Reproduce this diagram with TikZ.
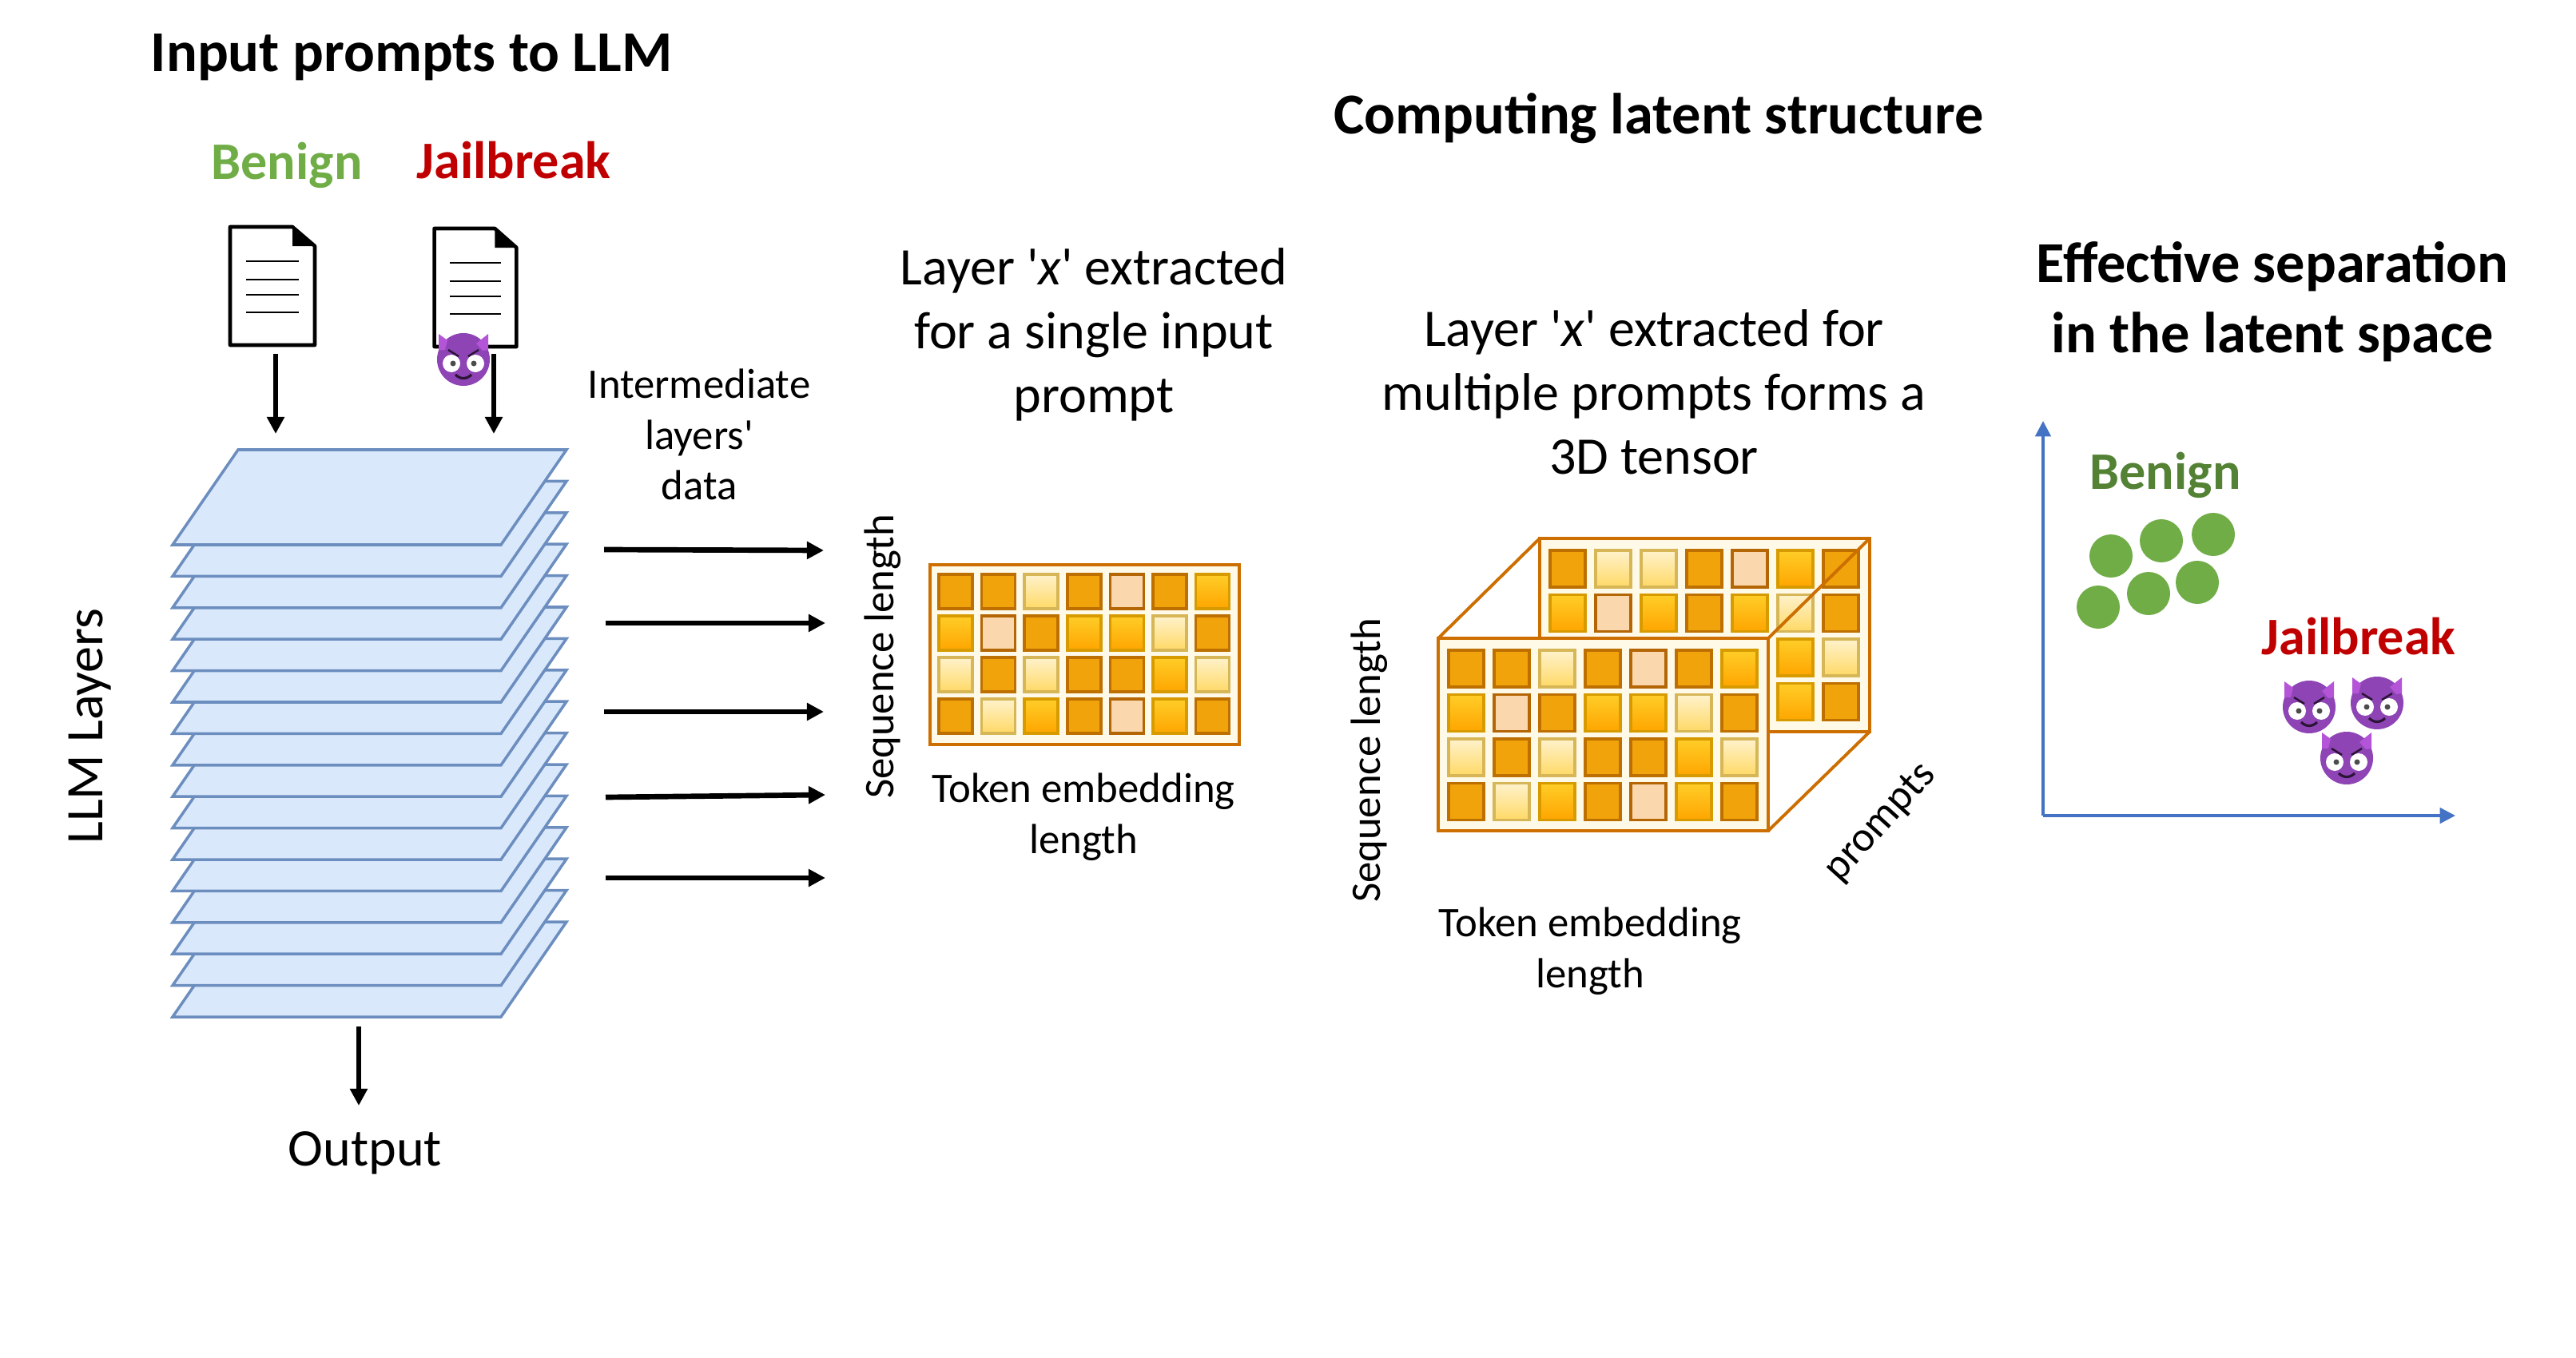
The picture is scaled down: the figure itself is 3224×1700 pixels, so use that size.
\documentclass[tikz,border=0pt]{standalone}
\usepackage{xcolor}
\usepackage{fontspec}
\setmainfont{Carlito}
\usetikzlibrary{arrows.meta}

\definecolor{layerfill}{HTML}{DAE8FC}
\definecolor{layerline}{HTML}{6C8EBF}
\definecolor{gridline}{HTML}{CC6E00}
\definecolor{gridfill}{HTML}{FFF9E8}
\definecolor{benigngreen}{HTML}{70AD47}
\definecolor{benigndark}{HTML}{548235}
\definecolor{jailred}{HTML}{C00000}
\definecolor{axisblue}{HTML}{4472C4}
\definecolor{devilface}{HTML}{8E44B5}
\definecolor{devilhorn}{HTML}{B455D8}

\tikzset{
  bigtext/.style={font=\fontsize{18.8}{22.8}\selectfont,align=center},
  smalltext/.style={font=\fontsize{15}{18.1}\selectfont,align=center},
  headtext/.style={font=\fontsize{20.6}{25}\selectfont\bfseries,align=center},
  tagtext/.style={font=\fontsize{18.8}{23}\selectfont\bfseries,align=center},
  flow/.style={line width=1.9pt,-{Triangle[length=6pt,width=6pt]}},
  axisline/.style={draw=axisblue,line width=1pt,-{Triangle[length=5.5pt,width=5.5pt]}},
  layerbox/.style={draw=layerline,fill=layerfill,line width=1pt,line join=miter},
  gridbox/.style={draw=gridline,fill=gridfill,line width=1.1pt},
  gridedge/.style={draw=gridline,line width=1.1pt},
  cellD/.style={draw={rgb,255:red,189;green,112;blue,0},fill={rgb,255:red,240;green,163;blue,10},line width=1pt},
  cellO/.style={draw={rgb,255:red,215;green,155;blue,0},top color={rgb,255:red,255;green,205;blue,40},bottom color={rgb,255:red,255;green,165;blue,0},line width=1pt},
  cellL/.style={draw={rgb,255:red,214;green,182;blue,86},top color={rgb,255:red,255;green,242;blue,204},bottom color={rgb,255:red,255;green,217;blue,102},line width=1pt},
  cellP/.style={draw={rgb,255:red,180;green,101;blue,4},fill={rgb,255:red,250;green,215;blue,172},line width=1pt},
  devil/.pic={
    \fill[devilface] (0,2) circle (33);
    \fill[devilhorn] (-31,-30) -- (-20,-22) -- (-23,-10) -- (-31,-10) -- cycle;
    \fill[devilhorn] (31,-30) -- (26,-26) -- (16,-18) -- (24,-9) -- (31,-10) -- cycle;
    \fill[white] (-15,7) circle (11) (15,7) circle (11);
    \fill[black!70] (-13,7) circle (3.5) (13,7) circle (3.5);
    \draw[black!70!devilface,line width=0.7pt] (-19,-10) -- (-6,-2) (19,-10) -- (6,-2);
    \draw[black!70!devilface,line width=0.9pt] (-10,21) .. controls (-4,27) and (4,27) .. (10,21);
  },
  docicon/.pic={
    \draw[fill=white,line width=1.3pt,line join=round] (-53,-74) -- (25,-74) -- (53,-50) -- (53,74) -- (-53,74) -- cycle;
    \fill[line join=round] (25,-74) -- (53,-50) -- (25,-50) -- cycle;
    \foreach \ly in {-31,-8,11,33}
      \draw[line width=0.8pt] (-33,\ly) -- (33,\ly);
  },
}

% one block of coloured cells, the rows come as a list
\newcommand{\drawcells}[7]{
  \foreach \row [count=\r from 0] in {#7}
    \foreach \c [count=\k from 0] in \row
      \draw[cell\c] ({#1+\k*#5},{#2+\r*#6}) rectangle ++(#3,#4);
}

\begin{document}
\begin{tikzpicture}[x=0.01cm,y=-0.01cm]
\useasboundingbox (0,0) rectangle (3224,1700);

% headings
\node[headtext] (inputTitle) at (515,72) {Input prompts to LLM};
\node[headtext] (latentTitle) at (2076,148) {Computing latent structure};
\node[tagtext,text=benigngreen] (benignLabel) at (359,207) {Benign};
\node[tagtext,text=jailred] (jailLabel) at (643,201) {Jailbreak};

% prompts
\pic at (341,358) {docicon};
\pic[xscale=0.97] at (595,360) {docicon};
\pic at (580,448) {devil};
\coordinate (benignOut) at (345,443);
\coordinate (benignIn) at (345,543);
\coordinate (jailOut) at (618,443);
\coordinate (jailIn) at (618,543);
\draw[flow] (benignOut) -- (benignIn);
\draw[flow] (jailOut) -- (jailIn);

% layer stack, lowest first
\foreach \i in {15,14,...,0}
  \draw[layerbox] (298,{563+\i*39.4}) -- (709,{563+\i*39.4}) -- (627,{682+\i*39.4}) -- (216,{682+\i*39.4}) -- cycle;
\node[bigtext,rotate=90] (stackLabel) at (113,909) {LLM Layers};
\coordinate (outStart) at (449,1285);
\coordinate (outEnd) at (449,1384);
\draw[flow] (outStart) -- (outEnd);
\node[bigtext] (outputLabel) at (457,1443) {Output};

% intermediate layers
\node[smalltext] (dataLabel) at (875,544) {Intermediate\\layers\textquotesingle\\data};
\foreach \n/\ya/\yb/\xa/\xb in {a/688/689/756/1031,b/780/780/758/1033,c/891/891/756/1031,d/998/995/758/1033,e/1099/1099/758/1033}{
  \coordinate (from\n) at (\xa,\ya);
  \coordinate (to\n) at (\xb,\yb);
  \draw[flow] (from\n) -- (to\n);
}

% single prompt
\node[bigtext] (singleTitle) at (1369,419) {Layer \textquotesingle{\itshape x}\textquotesingle{} extracted\\for a single input\\prompt};
\draw[gridbox] (1164,707) rectangle (1551,932);
\drawcells{1175}{719}{42}{43}{53.6}{52}{{D,D,L,D,P,D,O},{O,P,D,O,O,L,D},{L,D,L,D,D,O,L},{D,L,O,D,P,O,D}}
\node[smalltext,rotate=90] (seqOne) at (1105,822) {Sequence length};
\node[smalltext] (tokenOne) at (1356,1023) {Token embedding\\length};

% tensor of several prompts
\node[bigtext] (multiTitle) at (2070,491) {Layer \textquotesingle{\itshape x}\textquotesingle{} extracted for\\multiple prompts forms a\\3D tensor};
\draw[gridbox] (1927,674) rectangle (2340,916);
\drawcells{1940}{689}{44}{46}{57}{55.5}{{D,L,L,D,P,O,D},{O,P,O,D,O,L,D},{D,D,D,D,D,O,L},{D,D,D,D,D,O,D}}
\draw[gridbox] (1800,799) rectangle (2213,1040);
\drawcells{1813}{814}{44}{46}{57}{55.5}{{D,D,L,D,P,D,O},{O,P,D,O,O,L,D},{L,D,L,D,D,O,L},{D,L,O,D,P,O,D}}
\coordinate (frontTL) at (1800,799);
\coordinate (frontTR) at (2213,799);
\coordinate (frontBR) at (2213,1040);
\coordinate (backTL) at (1927,674);
\coordinate (backTR) at (2340,674);
\coordinate (backBR) at (2340,916);
\draw[gridedge] (frontTL) -- (backTL);
\draw[gridedge] (frontTR) -- (backTR);
\draw[gridedge] (frontBR) -- (backBR);
\node[smalltext,rotate=90] (seqMany) at (1714,952) {Sequence length};
\node[smalltext] (tokenMany) at (1990,1191) {Token embedding\\length};
\node[smalltext,rotate=48] (promptsLabel) at (2354,1030) {prompts};

% latent space
\node[headtext] (sepTitle) at (2844,378) {Effective separation\\in the latent space};
\coordinate (origin) at (2557,1021);
\coordinate (axisTop) at (2557,527);
\coordinate (axisEnd) at (3073,1021);
\draw[axisline] (origin) -- (axisTop);
\draw[axisline] (origin) -- (axisEnd);
\node[tagtext,text=benigndark] (benignCluster) at (2710,595) {Benign};
\foreach \cx/\cy in {2642/696,2705/677,2770/669,2626/760,2689/743,2750/729}
  \fill[benigngreen] (\cx,\cy) circle (27);
\node[tagtext,text=jailred] (jailCluster) at (2952,797) {Jailbreak};
\pic at (2890,883) {devil};
\pic at (2975,878) {devil};
\pic at (2937,947) {devil};
\end{tikzpicture}
\end{document}
